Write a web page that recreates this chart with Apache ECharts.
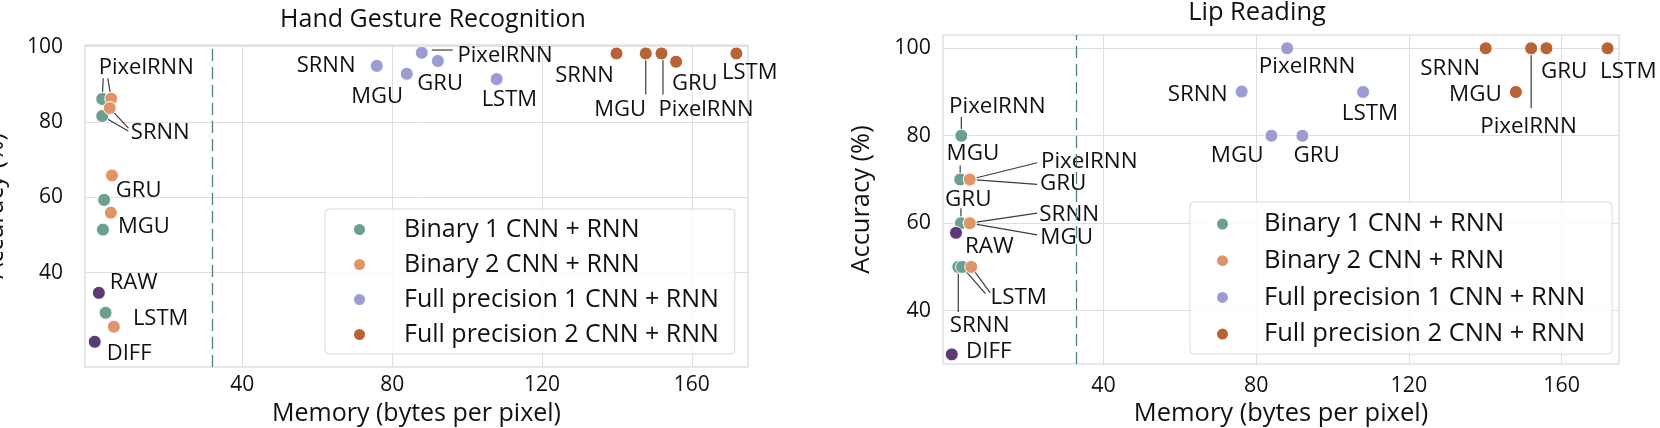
<!DOCTYPE html>
<html><head><meta charset="utf-8">
<script src="https://cdn.jsdelivr.net/npm/echarts@6/dist/echarts.min.js"></script>
<style>html,body{margin:0;padding:0;background:#fff}#c{width:1660px;height:428px}</style>
</head><body><div id="c"></div>
<script>
// ---------- data ----------
const MODELS = ['PixelRNN', 'SRNN', 'GRU', 'MGU', 'LSTM'];
const SERIES_NAMES = ['Binary 1 CNN + RNN', 'Binary 2 CNN + RNN', 'Full precision 1 CNN + RNN', 'Full precision 2 CNN + RNN'];
const BASE_NAMES = ['RAW', 'DIFF'];
const X_TICKS = [40, 80, 120, 160];
const Y_TICKS = [40, 60, 80, 100];

// Hand Gesture Recognition (memory in bytes per pixel, accuracy in %), order = MODELS
const hgBin1X = [2.6, 2.6, 3.1, 2.8, 3.5];
const hgBin1Y = [86.1, 81.6, 59.3, 51.4, 29.3];
const hgBin2X = [5.0, 4.6, 5.2, 4.9, 5.7];
const hgBin2Y = [86.2, 83.7, 65.8, 55.9, 25.6];
const hgFp1X = [87.9, 75.9, 92.2, 83.9, 107.9];
const hgFp1Y = [98.4, 94.9, 96.2, 92.8, 91.4];
const hgFp2X = [151.9, 139.9, 155.8, 147.7, 171.9];
const hgFp2Y = [98.2, 98.2, 96.0, 98.2, 98.2];
const hgBaseX = [1.7, 0.6];
const hgBaseY = [34.6, 21.6];
const hgThreshold = 32.1;

// Lip Reading
const lrBin1X = [2.8, 2.0, 2.7, 2.5, 3.0];
const lrBin1Y = [80, 50, 60, 70, 50];
const lrBin2X = [5.0, 5.0, 5.0, 5.0, 5.4];
const lrBin2Y = [70, 60, 70, 60, 50];
const lrFp1X = [88.1, 76.2, 92.1, 84.0, 108.0];
const lrFp1Y = [100, 90.1, 80, 80, 90];
const lrFp2X = [152.0, 140.1, 156.0, 148.0, 172.0];
const lrFp2Y = [100, 100, 100, 90, 100];
const lrBaseX = [1.4, 0.3];
const lrBaseY = [57.8, 30];
const lrThreshold = 32.8;

// ---------- styling / layout ----------
const FONT = "'Open Sans', sans-serif";
const TXT = '#111';
const COLORS = {b1: '#6a9f91', b2: '#e0946a', f1: '#9d9bd4', f2: '#b86334', base: '#5b3a77'};

const HG = {
  b1: {x: hgBin1X, y: hgBin1Y}, b2: {x: hgBin2X, y: hgBin2Y},
  f1: {x: hgFp1X, y: hgFp1Y}, f2: {x: hgFp2X, y: hgFp2Y}, base: {x: hgBaseX, y: hgBaseY}
};
const LR = {
  b1: {x: lrBin1X, y: lrBin1Y}, b2: {x: lrBin2X, y: lrBin2Y},
  f1: {x: lrFp1X, y: lrFp1Y}, f2: {x: lrFp2X, y: lrFp2Y}, base: {x: lrBaseX, y: lrBaseY}
};

// annotation placement (pixel offsets from the point), t = draw text, line = [sx, sy, ex, ey]
const HG_ANN = [
  {s: 'b1', i: 0, t: 1, dx: 44, dy: -31.3, line: [0, 0, 1, -20.7]},
  {s: 'b2', i: 0, t: 0, line: [0, 0, -3.4, -20.4]},
  {s: 'b1', i: 1, t: 1, dx: 58, dy: 16.3, line: [0, 0, 26, 15]},
  {s: 'b2', i: 1, t: 0, line: [0, 0, 18.7, 20]},
  {s: 'b2', i: 2, t: 1, dx: 26.7, dy: 15.3},
  {s: 'b1', i: 3, t: 1, dx: 41, dy: -3.3},
  {s: 'b1', i: 4, t: 1, dx: 55, dy: 5.7},
  {s: 'base', i: 0, t: 1, dx: 34.7, dy: -10},
  {s: 'base', i: 1, t: 1, dx: 34.4, dy: 11.7},
  {s: 'f1', i: 1, t: 1, dx: -50.7, dy: 0},
  {s: 'f1', i: 3, t: 1, dx: -29.7, dy: 23.3},
  {s: 'f1', i: 2, t: 1, dx: 2.3, dy: 22.3},
  {s: 'f1', i: 0, t: 1, dx: 83.3, dy: 3.3, line: [10, -2.7, 31, -2.7]},
  {s: 'f1', i: 4, t: 1, dx: 12.7, dy: 21},
  {s: 'f2', i: 1, t: 1, dx: -32, dy: 22.7},
  {s: 'f2', i: 3, t: 1, dx: -25.5, dy: 56, line: [0, 0, 0, 41]},
  {s: 'f2', i: 0, t: 1, dx: 44.6, dy: 56.7, line: [1.5, 0, 1.5, 41]},
  {s: 'f2', i: 2, t: 1, dx: 18.7, dy: 21.6},
  {s: 'f2', i: 4, t: 1, dx: 13.3, dy: 19.4}
];
const LR_ANN = [
  {s: 'b1', i: 0, t: 1, dx: 36, dy: -29, line: [0, 0, 0, -19]},
  {s: 'b1', i: 3, t: 1, dx: 12.8, dy: -25.7, line: [0, 0, 0, -14]},
  {s: 'b1', i: 2, t: 1, dx: 7.3, dy: -23.3, line: [0, 0, 0, -15]},
  {s: 'b2', i: 0, t: 1, dx: 119.5, dy: -17.7, line: [0, 0, 67.4, -16.7]},
  {s: 'b2', i: 2, t: 1, dx: 93.4, dy: 4.3, line: [0, 0, 67.4, 5]},
  {s: 'b2', i: 1, t: 1, dx: 99.5, dy: -8.3, line: [0, 0, 67.4, -10]},
  {s: 'b2', i: 3, t: 1, dx: 97, dy: 14, line: [0, 0, 67.4, 11.7]},
  {s: 'base', i: 0, t: 1, dx: 33.3, dy: 14},
  {s: 'b1', i: 1, t: 1, dx: 21.4, dy: 59, line: [0, 0, 0, 45]},
  {s: 'b1', i: 4, t: 1, dx: 56.6, dy: 31, line: [0, 0, 23.3, 26.6]},
  {s: 'b2', i: 4, t: 0, line: [0, 0, 19, 26]},
  {s: 'base', i: 1, t: 1, dx: 37, dy: -2.7},
  {s: 'f1', i: 0, t: 1, dx: 20, dy: 18.4},
  {s: 'f1', i: 1, t: 1, dx: -44, dy: 3.3},
  {s: 'f1', i: 4, t: 1, dx: 6.8, dy: 21.6},
  {s: 'f1', i: 3, t: 1, dx: -34.3, dy: 19.7},
  {s: 'f1', i: 2, t: 1, dx: 14.3, dy: 19.7},
  {s: 'f2', i: 1, t: 1, dx: -35.5, dy: 20},
  {s: 'f2', i: 0, t: 1, dx: -2.7, dy: 78.4, line: [0, 0, 0, 60]},
  {s: 'f2', i: 2, t: 1, dx: 17.7, dy: 23.4},
  {s: 'f2', i: 4, t: 1, dx: 20.8, dy: 23.4},
  {s: 'f2', i: 3, t: 1, dx: -40.5, dy: 2.7}
];

function pts(src) { return src.x.map((v, k) => [v, src.y[k]]); }

function scatterSeries(src, gi, threshold) {
  const keys = ['b1', 'b2', 'f1', 'f2'];
  const out = keys.map((k, n) => ({
    type: 'scatter', name: SERIES_NAMES[n], xAxisIndex: gi, yAxisIndex: gi, z: 3,
    symbolSize: 13, data: pts(src[k]), silent: true,
    itemStyle: {color: COLORS[k], borderColor: '#fff', borderWidth: 1, opacity: 1}
  }));
  out.push({
    type: 'scatter', name: 'Baseline', xAxisIndex: gi, yAxisIndex: gi, z: 3,
    symbolSize: 13, data: pts(src.base), silent: true,
    itemStyle: {color: COLORS.base, borderColor: '#fff', borderWidth: 1, opacity: 1},
    markLine: {
      silent: true, symbol: ['none', 'none'], label: {show: false}, animation: false,
      lineStyle: {type: [12, 6], color: '#4e8289', width: 1.3},
      data: [{xAxis: threshold}]
    }
  });
  return out;
}

function annSeries(ann, src, gi, fs) {
  return {
    type: 'custom', xAxisIndex: gi, yAxisIndex: gi, z: 2, silent: true, clip: false,
    data: ann.map(a => [src[a.s].x[a.i], src[a.s].y[a.i]]),
    renderItem: function (params, api) {
      const a = ann[params.dataIndex];
      const p = api.coord([api.value(0), api.value(1)]);
      const children = [];
      if (a.line) {
        children.push({type: 'line', shape: {x1: p[0] + a.line[0], y1: p[1] + a.line[1], x2: p[0] + a.line[2], y2: p[1] + a.line[3]},
          style: {stroke: '#3c3c3c', lineWidth: 1.2}});
      }
      if (a.t) {
        const name = a.s === 'base' ? BASE_NAMES[a.i] : MODELS[a.i];
        children.push({type: 'text', x: p[0] + a.dx, y: p[1] + a.dy,
          style: {text: name, fill: TXT, font: fs + 'px ' + FONT, align: 'center', verticalAlign: 'middle'}});
      }
      return {type: 'group', children: children};
    }
  };
}

function xAxis(gi, min, max, fs, margin, nameGap) {
  return {
    type: 'value', gridIndex: gi, min: min, max: max,
    axisLine: {show: false}, axisTick: {show: false, customValues: X_TICKS},
    axisLabel: {customValues: X_TICKS, fontSize: fs, margin: margin, color: TXT, fontFamily: FONT},
    splitLine: {show: true, lineStyle: {color: '#dedede', width: 1}},
    name: 'Memory (bytes per pixel)', nameLocation: 'middle', nameGap: nameGap,
    nameTextStyle: {fontSize: fs * 25 / 21, color: TXT, fontFamily: FONT}
  };
}
function yAxis(gi, min, max, fs, margin, nameGap) {
  return {
    type: 'value', gridIndex: gi, min: min, max: max,
    axisLine: {show: false}, axisTick: {show: false, customValues: Y_TICKS},
    axisLabel: {customValues: Y_TICKS, fontSize: fs, margin: margin, color: TXT, fontFamily: FONT},
    splitLine: {show: true, lineStyle: {color: '#dedede', width: 1}},
    name: 'Accuracy (%)', nameLocation: 'middle', nameGap: nameGap,
    nameTextStyle: {fontSize: fs * 25 / 21, color: TXT, fontFamily: FONT}
  };
}

function legend(left, top, padding, gap, fs, textPad) {
  return {
    data: SERIES_NAMES, orient: 'vertical', left: left, top: top, padding: padding,
    itemWidth: 13, itemHeight: 13, itemGap: gap, icon: 'circle', selectedMode: false,
    backgroundColor: 'rgba(255,255,255,0.85)', borderColor: '#d9d9d9', borderWidth: 1, borderRadius: 4,
    textStyle: {fontSize: fs, lineHeight: fs, color: TXT, fontFamily: FONT, padding: [0, 0, 0, textPad]}
  };
}

const option = {
  animation: false,
  backgroundColor: '#fff',
  textStyle: {fontFamily: FONT},
  title: [
    {text: 'Hand Gesture Recognition', left: 433, top: 7, textAlign: 'center', padding: 0,
      textStyle: {fontSize: 25, fontWeight: 'normal', color: TXT, fontFamily: FONT}},
    {text: 'Lip Reading', left: 1257, top: 0, textAlign: 'center', padding: 0,
      textStyle: {fontSize: 25.5, fontWeight: 'normal', color: TXT, fontFamily: FONT}}
  ],
  grid: [
    {left: 85, top: 45, width: 663, height: 322, show: true, borderColor: '#cfcfcf', borderWidth: 1, backgroundColor: 'transparent', containLabel: false, outerBoundsMode: 'none'},
    {left: 943, top: 35, width: 676, height: 329, show: true, borderColor: '#cfcfcf', borderWidth: 1, backgroundColor: 'transparent', containLabel: false, outerBoundsMode: 'none'}
  ],
  xAxis: [xAxis(0, -2, 175, 21, 8, 30), xAxis(1, -2, 175, 21.4, 11, 34)],
  yAxis: [yAxis(0, 14.9, 100.45, 21, 22, 77), yAxis(1, 27.8, 103.04, 21.4, 12, 69)],
  legend: [
    legend(325, 209, [8, 16, 7, 27], 10, 25, 33),
    legend(1190, 202, [9, 27, 7, 25], 10.7, 25.5, 30)
  ],
  series: [].concat(
    scatterSeries(HG, 0, hgThreshold),
    [annSeries(HG_ANN, HG, 0, 22)],
    scatterSeries(LR, 1, lrThreshold),
    [annSeries(LR_ANN, LR, 1, 22.4)]
  )
};

const chart = echarts.init(document.getElementById('c'), null, {renderer: 'canvas'});
chart.setOption(option);
</script>
</body></html>
